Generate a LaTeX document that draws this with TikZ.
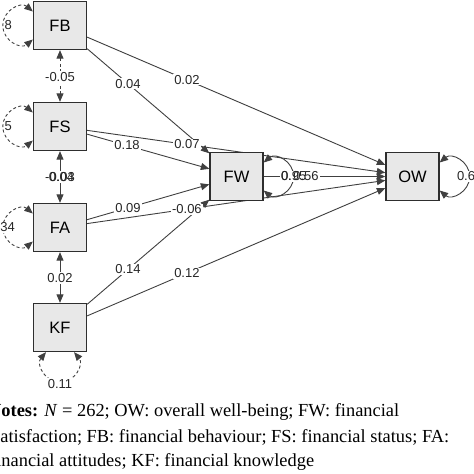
\documentclass[tikz,border=0pt]{standalone}
\usepackage{fontspec}
\setmainfont{Liberation Serif}
\newfontfamily\labfont{Liberation Sans}
\usetikzlibrary{arrows.meta,backgrounds,calc}
\begin{document}
\begin{tikzpicture}[x=1pt,y=-1pt,
  var/.style={draw=black!82,line width=1.3pt,fill=black!9,minimum width=53pt,minimum height=48pt,inner sep=0pt,font=\labfont\fontsize{16.5}{18}\selectfont},
  reg/.style={draw=black!75,line width=0.9pt,-{Triangle[length=8.5pt,width=7pt]}},
  cov/.style={draw=black!75,line width=0.9pt,{Triangle[length=8.5pt,width=7pt]}-{Triangle[length=8.5pt,width=7pt]}},
  ns/.style={dash pattern=on 3pt off 2.5pt},
  lab/.style={fill=white,inner sep=1pt,font=\labfont\fontsize{13}{14}\selectfont,text=black!85},
  labnf/.style={inner sep=1pt,font=\labfont\fontsize{13}{14}\selectfont,text=black!85},
  note/.style={anchor=base west,inner sep=0pt,font=\fontsize{18.4}{22}\selectfont}]
\useasboundingbox (0,0) rectangle (474,474);

% variables
\node[var] (FB) at (60,25.5) {FB};
\node[var] (FS) at (60,126.5) {FS};
\node[var] (FA) at (60,227.5) {FA};
\node[var] (KF) at (60,327.5) {KF};
\node[var] (FW) at (236.5,176.5) {FW};
\node[var] (OW) at (412.5,176.5) {OW};

\begin{scope}[on background layer]
  % regressions
  \draw[reg] (FB) -- (FW);
  \draw[reg] (FB) -- (OW);
  \draw[reg] (FS) -- (FW);
  \draw[reg] (FS) -- (OW);
  \draw[reg] (FA) -- (FW);
  \draw[reg] (FA) -- (OW);
  \draw[reg] (KF) -- (FW);
  \draw[reg] (KF) -- (OW);
  \draw[reg] (FW) -- (OW);
  % covariances
  \draw[cov,ns] (FB) -- (FS);
  \draw[cov] (FS) -- (FA);
  \draw[cov] (FA) -- (KF);
  % labels
  \path (FB.center) -- node[lab,pos=0.385] (l1) {0.04} (FW.center);
  \path (FB.center) -- node[lab,pos=0.36] (l2) {0.02} (OW.center);
  \path (FS.center) -- node[lab,pos=0.38] (l3) {0.18} (FW.center);
  \path (FS.center) -- node[lab,pos=0.36] (l4) {0.07} (OW.center);
  \path (FA.center) -- node[lab,pos=0.385] (l5) {0.09} (FW.center);
  \path (FA.center) -- node[lab,pos=0.36] (l6) {-0.06} (OW.center);
  \path (KF.center) -- node[lab,pos=0.385] (l7) {0.14} (FW.center);
  \path (KF.center) -- node[lab,pos=0.36] (l8) {0.12} (OW.center);
  \path (FB.center) -- node[lab,pos=0.51] (c1) {-0.05} (FS.center);
  \path (FS.center) -- node[lab,pos=0.5] (c2) {-0.03} (FA.center);
  \path (FS.center) -- node[labnf,pos=0.5,xshift=1.5pt] (c2b) {0.04} (FA.center);
  \path (FA.center) -- node[lab,pos=0.505] (c3) {0.02} (KF.center);
\end{scope}

% residual loops
\draw[cov,ns] ($(FB.west)+(0,-14)$) .. controls +(-11.9,-10) and +(0,-15.5) .. ++(-30,14) coordinate (rFB) .. controls +(0,15.5) and +(-11.9,10) .. ++(30,14);
\draw[cov,ns] ($(FS.west)+(0,-14)$) .. controls +(-11.9,-10) and +(0,-15.5) .. ++(-30,14) coordinate (rFS) .. controls +(0,15.5) and +(-11.9,10) .. ++(30,14);
\draw[cov,ns] ($(FA.west)+(0,-14)$) .. controls +(-11.9,-10) and +(0,-15.5) .. ++(-30,14) coordinate (rFA) .. controls +(0,15.5) and +(-11.9,10) .. ++(30,14);
\draw[cov,ns] ($(KF.south)+(-14,0)$) .. controls +(-10,11.9) and +(-15.5,0) .. ++(14,30) coordinate (rKF) .. controls +(15.5,0) and +(10,11.9) .. ++(14,-30);
\draw[cov] ($(FW.east)+(0,-14)$) .. controls +(11.9,-10) and +(0,-15.5) .. ++(30,14) coordinate (rFW) .. controls +(0,15.5) and +(11.9,10) .. ++(-30,14);
\draw[cov] ($(OW.east)+(0,-14)$) .. controls +(11.9,-10) and +(0,-15.5) .. ++(30,14) coordinate (rOW) .. controls +(0,15.5) and +(11.9,10) .. ++(-30,14);

\node[lab,inner sep=0.5pt] (vFB) at ($(rFB)+(5.5,0)$) {8};
\node[lab,inner sep=0.5pt] (vFS) at ($(rFS)+(5.5,0)$) {5};
\node[lab,inner sep=0.5pt] (vFA) at ($(rFA)+(4.8,0)$) {34};
\node[lab] (vKF) at ($(rKF)+(0,1.5)$) {0.11};
\node[lab] (vFW) at (rFW) {0.95};
\node[lab] (pFWOW) at ($(FW.center)!0.395!(OW.center)$) {0.56};
\node[labnf] (vFW2) at (rFW) {0.95};
\node[lab] (vOW) at (rOW) {0.68};

% notes
\node[note] (n1) at (-12,416.5) {\textbf{Notes:} \textit{N} = 262; OW: overall well-being; FW: financial};
\node[note] (n2) at (-7,442) {satisfaction; FB: financial behaviour; FS: financial status; FA:};
\node[note] (n3) at (-10,466.5) {financial attitudes; KF: financial knowledge};
\end{tikzpicture}
\end{document}
